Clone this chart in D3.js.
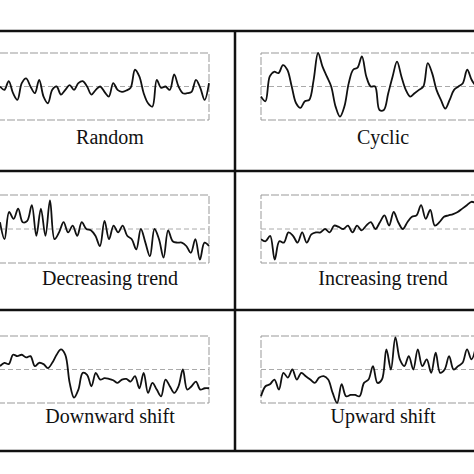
<!DOCTYPE html><html><head><meta charset="utf-8"><script src="https://cdn.jsdelivr.net/npm/d3@7"></script>
<style>body{margin:0;background:#fff}</style></head><body><svg id="c" width="474" height="474"></svg>
<script>
const titles=["Random","Cyclic","Decreasing trend","Increasing trend","Downward shift","Upward shift"];
const random=[0.5,0.45,0.58,0.4,0.3,0.55,0.62,0.5,0.4,0.6,0.35,0.25,0.45,0.5,0.38,0.45,0.52,0.45,0.55,0.58,0.5,0.38,0.45,0.5,0.42,0.35,0.55,0.45,0.42,0.44,0.48,0.75,0.65,0.4,0.25,0.2,0.6,0.48,0.5,0.45,0.68,0.5,0.4,0.4,0.42,0.6,0.48,0.3,0.55];
const cyclic=[0.35,0.28,0.65,0.72,0.7,0.82,0.75,0.5,0.25,0.18,0.28,0.3,0.6,1.0,0.8,0.65,0.5,0.2,0.05,0.2,0.55,0.75,0.78,0.95,0.65,0.5,0.5,0.15,0.15,0.4,0.65,0.87,0.65,0.45,0.35,0.4,0.45,0.5,0.85,0.7,0.45,0.3,0.17,0.3,0.45,0.5,0.55,0.75,0.6,0.5];
const decreasing=[0.6,0.35,0.75,0.65,0.8,0.6,0.62,0.85,0.4,0.8,0.4,0.92,0.35,0.45,0.6,0.45,0.55,0.4,0.6,0.5,0.48,0.4,0.25,0.62,0.35,0.55,0.45,0.55,0.4,0.35,0.2,0.5,0.3,0.1,0.5,0.35,0.08,0.48,0.32,0.3,0.3,0.25,0.15,0.35,0.05,0.3,0.25];
const increasing=[0.35,0.32,0.4,0.05,0.32,0.3,0.45,0.4,0.3,0.45,0.3,0.42,0.45,0.45,0.5,0.45,0.55,0.53,0.5,0.55,0.45,0.55,0.48,0.55,0.6,0.5,0.6,0.7,0.55,0.75,0.6,0.5,0.6,0.68,0.7,0.85,0.65,0.78,0.55,0.6,0.68,0.7,0.72,0.75,0.8,0.85,0.9,0.88];
const downward=[0.55,0.6,0.58,0.72,0.7,0.72,0.68,0.7,0.55,0.6,0.58,0.52,0.6,0.72,0.8,0.72,0.3,0.08,0.2,0.45,0.42,0.25,0.45,0.35,0.37,0.36,0.34,0.3,0.35,0.36,0.32,0.4,0.22,0.45,0.15,0.3,0.2,0.1,0.35,0.25,0.15,0.25,0.5,0.2,0.25,0.32,0.2,0.22,0.22];
const upward=[0.1,0.25,0.28,0.35,0.2,0.45,0.38,0.5,0.35,0.45,0.4,0.35,0.3,0.38,0.4,0.35,0.15,0.0,0.28,0.1,0.12,0.12,0.1,0.3,0.35,0.55,0.3,0.35,0.8,0.5,0.98,0.65,0.55,0.7,0.5,0.8,0.55,0.65,0.45,0.75,0.45,0.5,0.7,0.5,0.55,0.6,0.8,0.65,0.85];
const series=[random,cyclic,decreasing,increasing,downward,upward];
const svg=d3.select("#c");
const rows=[{b:[53,120],t:144},{b:[195,263],t:285},{b:[336,403],t:423}];
series.forEach((d,i)=>{
  const r=rows[Math.floor(i/2)], left=i%2==0;
  const bx=left?[-40,209]:[261,520], dx=left?[0,209]:[261,476];
  const x=d3.scaleLinear().domain([0,d.length-1]).range(dx);
  const y=d3.scaleLinear().domain([0,1]).range([r.b[1],r.b[0]]);
  const g=svg.append("g");
  g.append("rect").attr("x",bx[0]).attr("y",r.b[0]).attr("width",bx[1]-bx[0]).attr("height",r.b[1]-r.b[0])
   .attr("fill","none").attr("stroke","#999").attr("stroke-width",1).attr("stroke-dasharray","8,2");
  g.append("line").attr("x1",bx[0]).attr("x2",bx[1]).attr("y1",y(0.5)).attr("y2",y(0.5))
   .attr("stroke","#aaa").attr("stroke-dasharray","5,3");
  g.append("path").attr("d",d3.line().curve(d3.curveCatmullRom).x((v,j)=>x(j)).y(v=>y(v))(d)).attr("fill","none").attr("stroke","#111").attr("stroke-width",1.8).attr("stroke-linejoin","round");
  g.append("text").attr("x",left?110:383).attr("y",r.t).attr("text-anchor","middle")
   .style("font-family","Liberation Serif").style("font-size","20px").attr("fill","#111").text(titles[i]);
});
[31,171,310,451].forEach(yy=>svg.append("line").attr("x1",0).attr("x2",474).attr("y1",yy).attr("y2",yy).attr("stroke","#111").attr("stroke-width",2.5));
svg.append("line").attr("x1",235).attr("x2",235).attr("y1",31).attr("y2",451).attr("stroke","#111").attr("stroke-width",2.5);
</script></body></html>
